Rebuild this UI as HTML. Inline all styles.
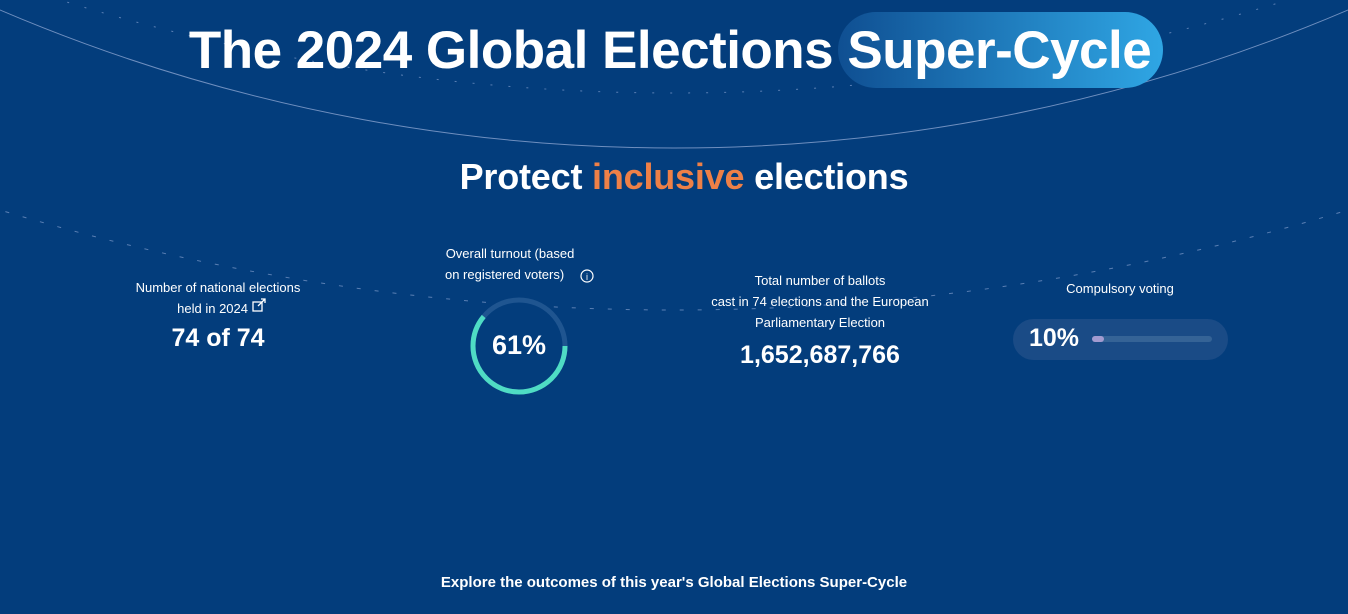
<!DOCTYPE html>
<html><head><style>
body{margin:0;width:1348px;height:614px;overflow:hidden;background:#033d7c;font-family:"Liberation Sans",sans-serif;color:#fff;position:relative}
.abs{position:absolute}
.c{text-align:center}
.lbl{font-size:13px;line-height:21px}
.big{font-weight:bold;font-size:25px}
</style></head><body>
<svg class="abs" style="left:0;top:0" width="1348" height="614">
<circle cx="674" cy="-1567" r="1715" fill="none" stroke="#6f8fbf" stroke-width="1"/>
<circle cx="674" cy="-1980" r="2073" fill="none" stroke="#5a7fb3" stroke-width="1" stroke-dasharray="2 16"/>
<circle cx="674" cy="-2011" r="2321" fill="none" stroke="#5a7fb3" stroke-width="1" stroke-dasharray="4 14"/>
<defs><linearGradient id="g" x1="0" x2="1"><stop offset="0" stop-color="#0f4f92"/><stop offset="1" stop-color="#2fa6e4"/></linearGradient></defs>
<rect x="838" y="12" width="325" height="76" rx="38" fill="url(#g)"/>
<circle cx="519" cy="346" r="46" fill="#033d7c" stroke="#1f5590" stroke-width="5"/>
<circle cx="519" cy="346" r="46" fill="none" stroke="#4fdcc4" stroke-width="5" stroke-dasharray="176.3 300"/>
<circle cx="587" cy="276" r="6" fill="none" stroke="#fff" stroke-width="1.2"/>
<text x="587" y="280" font-size="9" fill="#fff" text-anchor="middle" font-family="Liberation Sans">i</text>
<rect x="1013" y="319" width="215" height="41" rx="20.5" fill="#1a4b86"/>
<rect x="1092" y="336" width="120" height="6" rx="3" fill="#356396"/>
<rect x="1092" y="336" width="12" height="6" rx="3" fill="#a39bd0"/>
<rect x="253" y="302" width="9" height="9" fill="none" stroke="#fff" stroke-width="1.3"/>
<path d="M258 306 L265 299 M261 299 H265 V303" stroke="#fff" stroke-width="1.3" fill="none"/>
</svg>
<div class="abs c" style="left:0;width:1340px;top:18px;font-size:53px;font-weight:bold;line-height:66px;letter-spacing:-0.5px">The 2024 Global Elections Super-Cycle</div>
<div class="abs c" style="left:0;width:1368px;top:155px;font-size:36px;font-weight:bold;line-height:44px;letter-spacing:-0.2px">Protect <span style="color:#ee8047">inclusive</span> elections</div>
<div class="abs c lbl" style="left:118px;width:200px;top:277px">Number of national elections<br>held in 2024 &nbsp;&nbsp;</div>
<div class="abs c big" style="left:118px;width:200px;top:324px">74 of 74</div>
<div class="abs c lbl" style="left:420px;width:180px;top:243px">Overall turnout (based<br>&nbsp;on registered voters) &nbsp;&nbsp;&nbsp;</div>
<div class="abs c big" style="left:469px;width:100px;top:330px;font-size:27px">61%</div>
<div class="abs c lbl" style="left:680px;width:280px;top:270px">Total number of ballots<br>cast in 74 elections and the European<br>Parliamentary Election</div>
<div class="abs c big" style="left:680px;width:280px;top:341px">1,652,687,766</div>
<div class="abs c lbl" style="left:1020px;width:200px;top:278px">Compulsory voting</div>
<div class="abs big" style="left:1029px;top:324px">10%</div>
<div class="abs c" style="left:0;width:1348px;top:574px;font-size:15px;font-weight:bold">Explore the outcomes of this year's Global Elections Super-Cycle</div>
</body></html>
